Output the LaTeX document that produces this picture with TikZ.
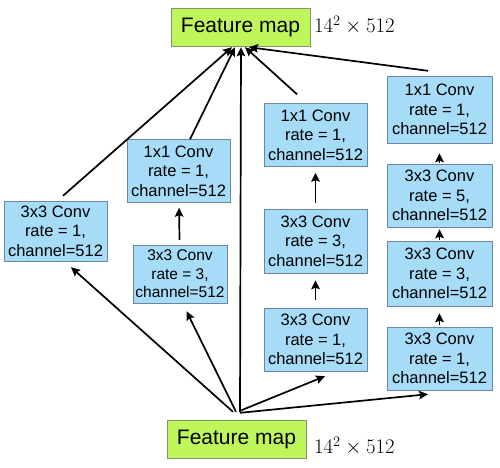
\documentclass[tikz,border=0pt]{standalone}
\usepackage[no-math]{fontspec}
\setmainfont{Liberation Sans}
\usetikzlibrary{positioning}
\usetikzlibrary{arrows.meta}
\definecolor{convblue}{RGB}{166,220,248}
\definecolor{convline}{RGB}{105,135,160}
\definecolor{fmapgreen}{RGB}{191,246,92}
\definecolor{fmapline}{RGB}{130,150,105}
\tikzset{
    conv/.style={
        draw=convline,
        fill=convblue,
        align=center,
        inner sep=0pt,
        minimum width=103pt,
        minimum height=63pt,
        font=\fontsize{16.5}{19.5}\selectfont
    },
    fmap/.style={
        draw=fmapline,
        fill=fmapgreen,
        inner sep=0pt,
        minimum width=139pt,
        minimum height=38pt,
        font=\fontsize{21}{24}\selectfont
    },
    dimlabel/.style={
        anchor=west,
        inner sep=0pt,
        font=\fontsize{21}{24}\selectfont
    },
    every edge/.append style={
        draw,
        -{Stealth[length=9pt,width=8.5pt,inset=1.5pt]},
        line width=1.7pt
    }
}
\begin{document}
\begin{tikzpicture}[x=1pt, y=-1pt]
    \useasboundingbox (0,0) rectangle (500,467);
    \node[fmap] (fmtop) at (240.5,27) {Feature map};
    \node[dimlabel] (dimtop) at (314,25) {$14^2\times 512$};
    \node[fmap] (fmin) at (236.5,439) {Feature map};
    \node[dimlabel] (dimin) at (314,446) {$14^2\times 512$};

    \node[conv, minimum height=60pt] (a1) at (55.5,231) {3x3 Conv\\rate = 1,\\channel=512};

    \node[conv] (b1) at (178.5,171) {1x1 Conv\\rate = 1,\\channel=512};
    \node[conv, minimum width=94pt, minimum height=58pt, font=\fontsize{15.5}{18.5}\selectfont] (b2) at (180,274) {3x3 Conv\\rate = 3,\\channel=512};

    \node[conv] (c1) at (315.5,135) {1x1 Conv\\rate = 1,\\channel=512};
    \node[conv, minimum height=64pt] (c2) at (315.5,241) {3x3 Conv\\rate = 3,\\channel=512};
    \node[conv] (c3) at (315.5,339.5) {3x3 Conv\\rate = 1,\\channel=512};

    \node[conv, minimum width=105pt, minimum height=67pt] (d1) at (439.5,109.5) {1x1 Conv\\rate = 1,\\channel=512};
    \node[conv, minimum width=105pt] (d2) at (439.5,195.5) {3x3 Conv\\rate = 5,\\channel=512};
    \node[conv, minimum width=105pt, minimum height=65pt] (d3) at (439.5,273.5) {3x3 Conv\\rate = 3,\\channel=512};
    \node[conv, minimum width=105pt] (d4) at (439.5,358.5) {3x3 Conv\\rate = 1,\\channel=512};

    % input to each branch
    \draw ([xshift=-3.5pt,yshift=8pt]fmin.north) edge ([xshift=15.5pt,yshift=-6pt]a1.south)
        ([xshift=-0.5pt,yshift=8pt]fmin.north) edge ([xshift=6.5pt,yshift=-8pt]b2.south)
        ([xshift=3.5pt,yshift=8pt]fmin.north) edge ([xshift=0.5pt,yshift=-1pt]fmtop.south)
        ([xshift=3.5pt,yshift=9pt]fmin.north) edge ([xshift=9.5pt,yshift=-5pt]c3.south)
        ([xshift=3.5pt,yshift=7pt]fmin.north) edge ([xshift=-11.5pt,yshift=-4pt]d4.south);

    % inside the branches
    \draw (b2) edge[shorten <=5pt, shorten >=5pt] (b1);
    \draw (c3) edge[shorten <=8pt, shorten >=7pt] (c2)
        (c2) edge[shorten <=6pt, shorten >=6pt] (c1);
    \draw (d4) edge[shorten <=2pt, shorten >=7pt] (d3)
        (d3) edge[shorten <=1pt, shorten >=2pt] (d2)
        (d2) edge[shorten <=1pt, shorten >=10pt] (d1);

    % branches to output
    \draw ([xshift=7.5pt,yshift=5pt]a1.north) edge ([xshift=-8.5pt,yshift=-1pt]fmtop.south)
        ([xshift=11.5pt]b1.north) edge ([xshift=-5.5pt,yshift=-1pt]fmtop.south)
        ([xshift=-18.5pt,yshift=9pt]c1.north) edge ([xshift=4.5pt,yshift=-1pt]fmtop.south)
        ([xshift=-11.5pt,yshift=5pt]d1.north) edge ([xshift=8.5pt,yshift=-1pt]fmtop.south);
\end{tikzpicture}
\end{document}
